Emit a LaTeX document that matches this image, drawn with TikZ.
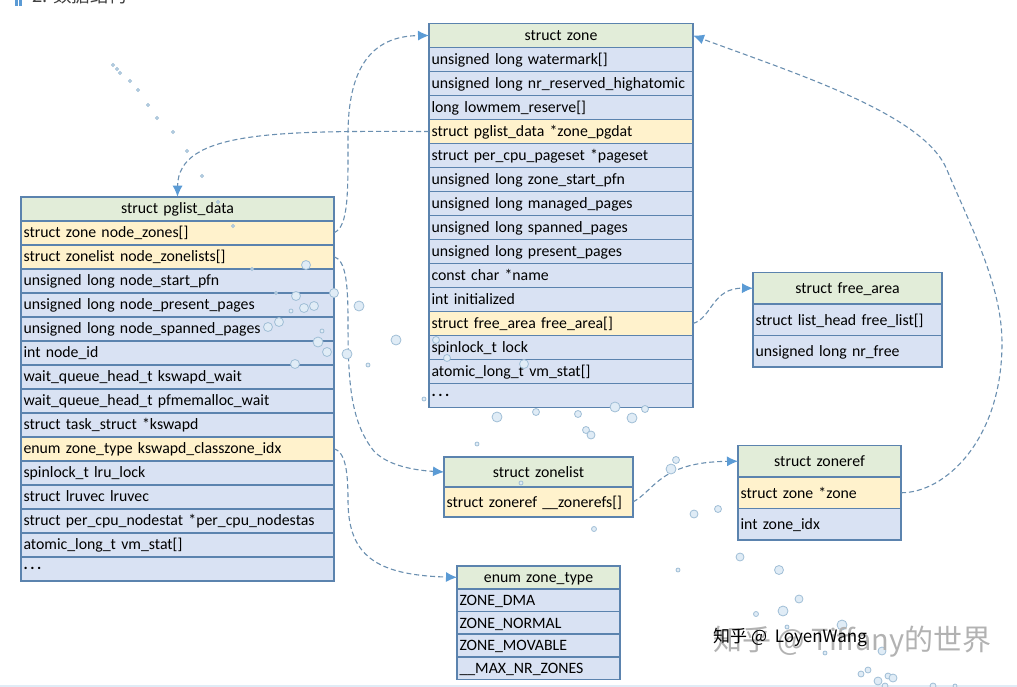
\documentclass[tikz,border=0pt]{standalone}
\usepackage{fontspec}
\setmainfont{Carlito}
\newfontfamily\cjk{Noto Sans CJK SC}
\usetikzlibrary{arrows.meta}
\definecolor{linec}{HTML}{5B83AE}
\definecolor{dashc}{HTML}{6A8FB0}
\definecolor{tipc}{HTML}{5B9BD5}
\definecolor{headc}{HTML}{E2EDD9}
\definecolor{rowc}{HTML}{D9E2F3}
\definecolor{hotc}{HTML}{FFF2CC}
\definecolor{bubblec}{HTML}{A0BED6}
\definecolor{bubblef}{HTML}{E0ECF6}
\tikzset{
  cell/.style={draw=linec,line width=1.7pt,anchor=north west,outer sep=0pt,inner xsep=2.5pt,inner ysep=0pt,
               text height=14pt,text depth=3.5pt,font=\fontsize{15.8}{18}\selectfont},
  headcell/.style={cell,fill=headc,align=center},
  rowcell/.style={cell,fill=rowc,align=left},
  hotcell/.style={cell,fill=hotc,align=left},
  link/.style={dashc,line width=1.1pt,dash pattern=on 5pt off 3pt,-{Latex[color=tipc,length=11pt,width=10pt]}},
  bubble/.style={draw=bubblec,fill=bubblef,line width=0.8pt},
}
\begin{document}
\begin{tikzpicture}[x=1pt,y=-1pt]
  \useasboundingbox (0,0) rectangle (1017,687);
  \draw[color=bubblef,line width=1.2pt] (0,686) -- (1017,686);
  \fill[tipc] (15,0) rectangle (17.5,6);
  \fill[tipc] (19,0) rectangle (21.5,6);
  \node[anchor=west,inner sep=0pt,text=black!75,font=\fontsize{18.5}{20}\cjk] (title) at (32,-5) {2. 数据结构};

  \begin{scope}[every node/.append style={text width=308pt,minimum height=24pt}]
    \node[headcell] (pg0) at (21,196.7) {struct pglist\_data};
    \node[hotcell] (pg1) at (21,220.7) {struct zone node\_zones[]};
    \node[hotcell] (pg2) at (21,244.7) {struct zonelist node\_zonelists[]};
    \node[rowcell] (pg3) at (21,268.7) {unsigned long node\_start\_pfn};
    \node[rowcell] (pg4) at (21,292.7) {unsigned long node\_present\_pages};
    \node[rowcell] (pg5) at (21,316.7) {unsigned long node\_spanned\_pages};
    \node[rowcell] (pg6) at (21,340.7) {int node\_id};
    \node[rowcell] (pg7) at (21,364.7) {wait\_queue\_head\_t kswapd\_wait};
    \node[rowcell] (pg8) at (21,388.7) {wait\_queue\_head\_t pfmemalloc\_wait};
    \node[rowcell] (pg9) at (21,412.7) {struct task\_struct *kswapd};
    \node[hotcell] (pg10) at (21,436.7) {enum zone\_type kswapd\_classzone\_idx};
    \node[rowcell] (pg11) at (21,460.7) {spinlock\_t lru\_lock};
    \node[rowcell] (pg12) at (21,484.7) {struct lruvec lruvec};
    \node[rowcell] (pg13) at (21,508.7) {struct per\_cpu\_nodestat *per\_cpu\_nodestas};
    \node[rowcell] (pg14) at (21,532.7) {atomic\_long\_t vm\_stat[]};
    \node[rowcell] (pg15) at (21,556.7) {\raisebox{4pt}{\textbf{.\,.\,.}}};
  \end{scope}

  \begin{scope}[every node/.append style={text width=259pt,minimum height=24pt}]
    \node[headcell] (zn0) at (429,23.5) {struct zone};
    \node[rowcell] (zn1) at (429,47.5) {unsigned long watermark[]};
    \node[rowcell] (zn2) at (429,71.5) {unsigned long nr\_reserved\_highatomic};
    \node[rowcell] (zn3) at (429,95.5) {long lowmem\_reserve[]};
    \node[hotcell] (zn4) at (429,119.5) {struct pglist\_data *zone\_pgdat};
    \node[rowcell] (zn5) at (429,143.5) {struct per\_cpu\_pageset *pageset};
    \node[rowcell] (zn6) at (429,167.5) {unsigned long zone\_start\_pfn};
    \node[rowcell] (zn7) at (429,191.5) {unsigned long managed\_pages};
    \node[rowcell] (zn8) at (429,215.5) {unsigned long spanned\_pages};
    \node[rowcell] (zn9) at (429,239.5) {unsigned long present\_pages};
    \node[rowcell] (zn10) at (429,263.5) {const char *name};
    \node[rowcell] (zn11) at (429,287.5) {int initialized};
    \node[hotcell] (zn12) at (429,311.5) {struct free\_area free\_area[]};
    \node[rowcell] (zn13) at (429,335.5) {spinlock\_t lock};
    \node[rowcell] (zn14) at (429,359.5) {atomic\_long\_t vm\_stat[]};
    \node[rowcell] (zn15) at (429,383.5) {\raisebox{4pt}{\textbf{.\,.\,.}}};
  \end{scope}

  \begin{scope}[every node/.append style={text width=184pt,minimum height=31.5pt}]
    \node[headcell] (fa0) at (753,272.5) {struct free\_area};
    \node[rowcell] (fa1) at (753,304) {struct list\_head free\_list[]};
    \node[rowcell] (fa2) at (753,335.5) {unsigned long nr\_free};
  \end{scope}

  \begin{scope}[every node/.append style={text width=184pt,minimum height=30pt}]
    \node[headcell] (zl0) at (444,457) {struct zonelist};
    \node[hotcell] (zl1) at (444,487) {struct zoneref \_\_zonerefs[]};
  \end{scope}

  \begin{scope}[every node/.append style={text width=158pt,minimum height=31.5pt}]
    \node[headcell] (zr0) at (738,445.5) {struct zoneref};
    \node[hotcell] (zr1) at (738,477) {struct zone *zone};
    \node[rowcell] (zr2) at (738,508.5) {int zone\_idx};
  \end{scope}

  \begin{scope}[every node/.append style={text width=158pt,minimum height=22.7pt}]
    \node[headcell] (zt0) at (457,566) {enum zone\_type};
    \node[rowcell] (zt1) at (457,588.7) {ZONE\_DMA};
    \node[rowcell] (zt2) at (457,611.4) {ZONE\_NORMAL};
    \node[rowcell] (zt3) at (457,634.1) {ZONE\_MOVABLE};
    \node[rowcell] (zt4) at (457,656.8) {\_\_MAX\_NR\_ZONES};
  \end{scope}

  \draw[link] (pg1.east) .. controls (349,227) and (348,190) .. (348,135) .. controls (348,70) and (370,36) .. (zn0.west);
  \draw[link] (zn4.west) .. controls (280,131) and (178,130) .. (pg0.north);
  \draw[link] (pg2.east) .. controls (345,260) and (348,280) .. (348,320) .. controls (348,380) and (350,420) .. (373,450) .. controls (385,464) and (410,470) .. (zl0.west);
  \draw[link] (pg10.east) .. controls (345,452) and (348,470) .. (348,500) .. controls (348,555) and (375,575) .. (zt0.west);
  \draw[link] (zn12.east) .. controls (712,318) and (712,288) .. (fa0.west);
  \draw[link] (zl1.east) .. controls (655,490) and (660,462) .. (zr0.west);
  \draw[link] (zr1.east) .. controls (945,493) and (1002,440) .. (1002,343) .. controls (1002,285) and (970,225) .. (947,170) .. controls (925,115) and (800,75) .. (zn0.east);

  \foreach \x/\y/\r in {113/65/1.5,117/69/1.5,120/73/1.5,130/81/1.5,138/90/1.5,148/105/1.5,157/118/1.5,173/132/1.5,187/151/1.5,202/176/1.5,218/202/1.5,233/226/1.5,
    252/269/1.5,306/265/4.5,296/296/4.5,334/293/4.5,276/293/1.5,304/308/4.5,314/306/4.5,291/311/2,279/322/4.5,268/327/4.5,322/331/2,318/342/5,327/352/4.5,347/354/5,295/364/4.5,
    359/306/5,396/340/5,368/365/2,436/340/3.5,447/358/3.5,524/364/4.5,424/399/2,497/417/5,536/412/3.5,578/414/3.5,615/407/5,632/418/5,645/409/3.5,586/430/3.5,591/435/4,477/444/2,
    676/460/3.5,671/469/5,521/483/2,594/529/2.5,694/514/4,718/509/3.5,740/557/4,779/570/4.5,678/570/2,799/599/4,783/611/5,756/614/2.5,842/625/5,787/627/2,825/653/2,882/651/4,
    861/674/3,868/670/3,878/681/4,888/676/3,893/678/4,885/686/3,933/686/3,955/686/2}
    \draw[bubble] (\x,\y) circle (\r);

  \node[anchor=west,inner sep=0pt,text=black!30,font=\fontsize{29}{32}\cjk] (mark) at (713,642) {知乎 @ Tiffany的世界};
  \node[anchor=west,inner sep=0pt,text=black,font=\fontsize{17}{20}\cjk] (author) at (713,637) {知乎 @\hspace{4pt} LoyenWang};
\end{tikzpicture}
\end{document}
